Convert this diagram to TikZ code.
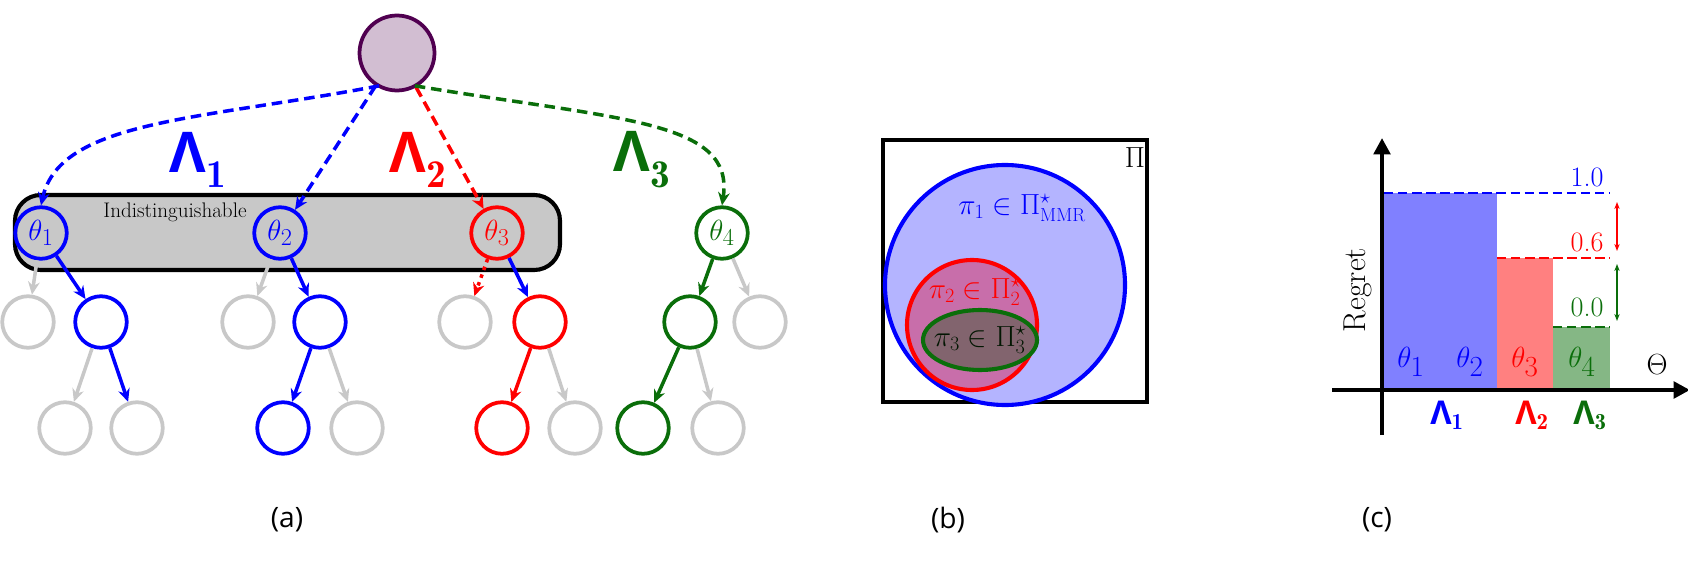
\documentclass[tikz,border=0pt]{standalone}
\usepackage{amsmath,bm}
\usepackage{fontspec}
\newfontfamily\capfont{Open Sans}
\usetikzlibrary{arrows.meta}
\definecolor{myb}{RGB}{0,0,255}
\definecolor{myr}{RGB}{255,0,0}
\definecolor{myg}{RGB}{10,110,10}
\definecolor{myp}{RGB}{80,0,80}
\definecolor{myfill}{RGB}{210,190,210}
\definecolor{gry}{RGB}{200,200,200}
\newcommand{\fs}[1]{\fontsize{#1}{#1}\selectfont}
\newcommand{\Lam}[1]{{\capfont\bfseries Λ}$_{\mathbf{#1}}$}
\tikzset{
 nd/.style={circle,draw,line width=3.2pt,minimum size=44pt,inner sep=0pt},
 gnd/.style={nd,draw=gry},
 edge/.style={line width=3pt,-{Stealth[length=11pt,width=10pt]}},
 dedge/.style={edge,dash pattern=on 9pt off 5pt},
}
\begin{document}
\begin{tikzpicture}[x=0.03cm,y=-0.03cm]
\useasboundingbox (0,0) rectangle (1688,568);
% (a)
\node[nd,draw=myp,fill=myfill,minimum size=64pt] (root) at (397,53) {};
\draw[line width=3.5pt,fill=gry,rounded corners=22pt] (15,195) rectangle (560,270);
\node[font=\fs{18}] (ind) at (175,212) {Indistinguishable};
\node[nd,draw=myb,font=\fs{32}] (t1) at (41,233) {$\color{myb}\theta_1$};
\node[nd,draw=myb,font=\fs{32}] (t2) at (280,233) {$\color{myb}\theta_2$};
\node[nd,draw=myr,font=\fs{32}] (t3) at (497,233) {$\color{myr}\theta_3$};
\node[nd,draw=myg,font=\fs{32}] (t4) at (722,233) {$\color{myg}\theta_4$};
\node[font=\fs{48},text=myb] (L1) at (198,160) {\Lam1};
\node[font=\fs{48},text=myr] (L2) at (418,160) {\Lam2};
\node[font=\fs{48},text=myg] (L3) at (642,160) {\Lam3};
\draw[dedge,myb] (root.south west) ++(10,5) coordinate (r1) (r1) .. controls (200,120) and (60,120) .. (t1.north);
\draw[dedge,myb] (root) -- (t2);
\draw[dedge,myr] (root) -- (t3);
\draw[dedge,myg] (root.south east) ++(-10,5) coordinate (r4) (r4) .. controls (620,120) and (735,120) .. (t4.north);
% level 2
\node[gnd] (a1) at (28,322) {};
\node[nd,draw=myb] (b1) at (101,322) {};
\node[gnd] (a2) at (248,322) {};
\node[nd,draw=myb] (b2) at (320,322) {};
\node[gnd] (a3) at (465,322) {};
\node[nd,draw=myr] (b3) at (540,322) {};
\node[nd,draw=myg] (a4) at (690,322) {};
\node[gnd] (b4) at (760,322) {};
% level 3
\node[gnd] (c1) at (65,428) {};
\node[gnd] (d1) at (137,428) {};
\node[nd,draw=myb] (c2) at (283,428) {};
\node[gnd] (d2) at (357,428) {};
\node[nd,draw=myr] (c3) at (502,428) {};
\node[gnd] (d3) at (575,428) {};
\node[nd,draw=myg] (c4) at (643,428) {};
\node[gnd] (d4) at (718,428) {};
\draw[edge,gry] (t1) -- (a1); \draw[edge,myb] (t1) -- (b1);
\draw[edge,gry] (t2) -- (a2); \draw[edge,myb] (t2) -- (b2);
\draw[edge,myr,dash pattern=on 3pt off 4pt] (t3) -- (a3); \draw[edge,myb] (t3) -- (b3);
\draw[edge,myg] (t4) -- (a4); \draw[edge,gry] (t4) -- (b4);
\draw[edge,gry] (b1) -- (c1); \draw[edge,myb] (b1) -- (d1);
\draw[edge,myb] (b2) -- (c2); \draw[edge,gry] (b2) -- (d2);
\draw[edge,myr] (b3) -- (c3); \draw[edge,gry] (b3) -- (d3);
\draw[edge,myg] (a4) -- (c4); \draw[edge,gry] (a4) -- (d4);
\node[font=\capfont\fs{24}] (ca) at (287,520) {(a)};
% (b)
\draw[line width=3.5pt] (883,140) rectangle (1147,402);
\node[font=\fs{24}] (Pi) at (1135,158) {$\Pi$};
\draw[myb,line width=3.5pt,fill={rgb,255:red,180;green,180;blue,255}] (1005,285) circle[radius=120];
\draw[myr,line width=3.5pt,fill={rgb,255:red,200;green,110;blue,170}] (972,325) circle[radius=65];
\draw[myg,line width=3.5pt,fill={rgb,255:red,130;green,100;blue,110}] (980,340) ellipse[x radius=57,y radius=30];
\node[font=\fs{23},text=myb] (p1) at (1022,208) {$\pi_1\in\Pi^\star_{\text{MMR}}$};
\node[font=\fs{23},text=myr] (p2) at (975,292) {$\pi_2\in\Pi^\star_2$};
\node[font=\fs{23},text=black!80!myg] (p3) at (980,340) {$\pi_3\in\Pi^\star_3$};
\node[font=\capfont\fs{24}] (cb) at (948,520) {(b)};
% (c)
\fill[myb!50] (1384,193) rectangle (1497,390);
\fill[myr!50] (1497,258) rectangle (1553,390);
\fill[myg!50] (1553,327) rectangle (1610,390);
\draw[myb,line width=1.5pt,dash pattern=on 8pt off 4pt] (1384,193) -- (1610,193);
\draw[myr,line width=1.5pt,dash pattern=on 8pt off 4pt] (1497,258) -- (1610,258);
\draw[myg,line width=1.5pt,dash pattern=on 8pt off 4pt] (1553,327) -- (1610,327);
\coordinate (ax0) at (1382,435); \coordinate (ay1) at (1382,138);
\coordinate (bx0) at (1332,390); \coordinate (bx1) at (1690,390);
\draw[line width=3.5pt,-{Triangle[length=14pt,width=14pt]}] (ax0) -- (ay1);
\draw[line width=3.5pt,-{Triangle[length=14pt,width=14pt]}] (bx0) -- (bx1);
\node[font=\fs{24},text=myb] (v1) at (1587,177) {1.0};
\node[font=\fs{24},text=myr] (v2) at (1587,242) {0.6};
\node[font=\fs{24},text=myg] (v3) at (1587,307) {0.0};
\coordinate (ra) at (1617,202); \coordinate (rb) at (1617,251);
\coordinate (ga) at (1617,264); \coordinate (gb) at (1617,321);
\draw[myr,line width=1.3pt,{Stealth[length=6pt]}-{Stealth[length=6pt]}] (ra) -- (rb);
\draw[myg,line width=1.3pt,{Stealth[length=6pt]}-{Stealth[length=6pt]}] (ga) -- (gb);
\node[font=\fs{27},rotate=90] (reg) at (1358,290) {Regret};
\node[font=\fs{34}] (Th) at (1657,365) {$\Theta$};
\node[font=\fs{38},text=myb] (q1) at (1411,362) {$\theta_1$};
\node[font=\fs{38},text=myb] (q2) at (1470,362) {$\theta_2$};
\node[font=\fs{38},text=myr] (q3) at (1525,362) {$\theta_3$};
\node[font=\fs{38},text=myg] (q4) at (1582,362) {$\theta_4$};
\node[font=\fs{28},text=myb] (m1) at (1447,415) {\Lam1};
\node[font=\fs{28},text=myr] (m2) at (1532,415) {\Lam2};
\node[font=\fs{28},text=myg] (m3) at (1590,415) {\Lam3};
\node[font=\capfont\fs{24}] (cc) at (1377,520) {(c)};
\end{tikzpicture}
\end{document}
